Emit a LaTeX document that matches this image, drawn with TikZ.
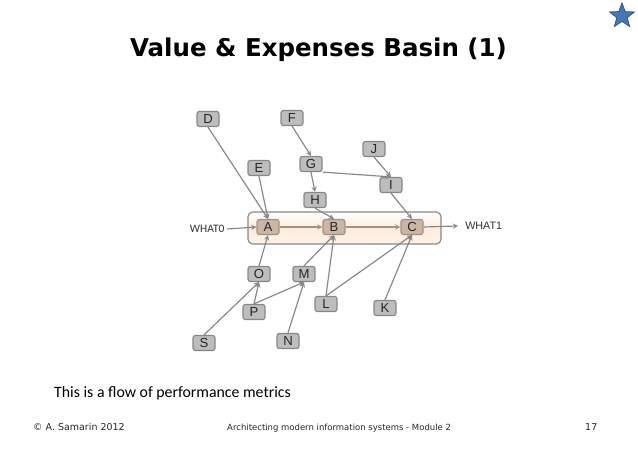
\documentclass[tikz,border=0pt]{standalone}
\usepackage{fontspec}
\setmainfont{Liberation Sans}
\newfontfamily\titlefont{DejaVu Sans}
\newfontfamily\bodyfont{Carlito}
\usetikzlibrary{shapes.geometric}

\definecolor{flowgrey}{RGB}{135,135,135}
\definecolor{badgeblue}{RGB}{70,120,185}
\definecolor{stagefill}{RGB}{203,182,165}
\definecolor{stageline}{RGB}{165,145,130}
\definecolor{basinfill}{RGB}{253,236,222}
\tikzstyle{metric} = [draw=flowgrey, fill=black!26, line width=1pt, rectangle,
  rounded corners=2pt, minimum width=22*0.3mm, minimum height=15*0.3mm,
  inner sep=0pt, font=\fontsize{11.2}{13}\selectfont, text=black!85]
\tikzstyle{stage} = [metric, draw=stageline, fill=stagefill]
\tikzstyle{basin} = [draw=flowgrey, line width=1pt, rectangle, rounded corners=4pt,
  minimum width=193*0.3mm, minimum height=32*0.3mm,
  top color=white, bottom color=basinfill!70, middle color=basinfill]
\tikzstyle{flow} = [->, >=stealth, line width=1pt, color=flowgrey]
\tikzstyle{inflow} = [flow, color=stageline]
\tikzstyle{what} = [inner sep=2pt, font=\fontsize{9.2}{12}\selectfont, text=black!80]
\tikzstyle{footer} = [inner sep=0pt, anchor=base west,
  font=\titlefont\fontsize{8.1}{10}\selectfont, color=black!85]

\begin{document}
\begin{tikzpicture}[x=0.3mm, y=-0.3mm]
        \useasboundingbox (0,0) rectangle (638,451);

        \node [inner sep=0pt] (title) at (318.5,50)
          {\titlefont\bfseries\fontsize{20.9}{25}\selectfont Value \& Expenses Basin (1)};
        \node [star, star points=5, star point ratio=2.4, minimum size=7.8mm, inner sep=0pt,
          draw=badgeblue!70!black, line width=0.7pt, fill=badgeblue] (badge) at (622,16) {};

        \node [basin]  (basin) at (344.5,228) {};

        \node [metric] (D) at (208,119) {D};
        \node [metric] (F) at (292,118) {F};
        \node [metric] (J) at (374,149) {J};
        \node [metric] (G) at (311,164) {G};
        \node [metric] (E) at (259,168) {E};
        \node [metric] (I) at (391,185) {I};
        \node [metric] (H) at (315,200) {H};
        \node [stage]  (A) at (268,227) {A};
        \node [stage]  (B) at (334,227) {B};
        \node [stage]  (C) at (412,227) {C};
        \node [metric] (O) at (259,274) {O};
        \node [metric] (M) at (304,274) {M};
        \node [metric] (L) at (326,304) {L};
        \node [metric] (K) at (385,308) {K};
        \node [metric] (P) at (254,312) {P};
        \node [metric] (S) at (204,343) {S};
        \node [metric] (N) at (288,341) {N};

        \node [what, anchor=east, font=\fontsize{9.8}{12}\selectfont] (what0) at (227,229) {\bodyfont WHAT0};
        \node [what, anchor=west, inner sep=6pt] (what1) at (458,226) {WHAT1};

        \draw[flow] (what0.east) -- (A.west);
        \draw[flow] (C.east) -- (what1.west);
        \draw[inflow] (A.east) -- (B.west);
        \draw[inflow] (B.east) -- (C.west);

        \draw[flow] (D.south) -- (A.north);
        \draw[flow] (E.south) -- (A.north);
        \draw[flow] (F.south) -- (G.north);
        \draw[flow] (G.south) -- (H.north);
        \draw[flow] (G.south east) -- (I.north);
        \draw[flow] (J.south) -- (I.north);
        \draw[flow] (H.south) -- (B.north);
        \draw[flow] (I.south) -- (C.north);
        \draw[flow] (O.north) -- (A.south);
        \draw[flow] (M.north) -- (B.south);
        \draw[flow] (L.north) -- (B.south);
        \draw[flow] (L.north) -- (C.south);
        \draw[flow] (K.north) -- (C.south);
        \draw[flow] (P.north) -- (O.south);
        \draw[flow] (P.north) -- (M.south);
        \draw[flow] (S.north) -- (O.south);
        \draw[flow] (N.north) -- (M.south);

        \node [inner sep=0pt, anchor=base west] (note) at (54,398)
          {\bodyfont\fontsize{13.5}{16}\selectfont This is a flow of performance metrics};
        \node [footer] (copyright) at (33,431) {© A. Samarin 2012};
        \node [footer, font=\titlefont\fontsize{7.25}{10}\selectfont] (module) at (227,431)
          {Architecting modern information systems - Module 2};
        \node [footer] (page)      at (585,431) {17};
      \end{tikzpicture}
\end{document}
